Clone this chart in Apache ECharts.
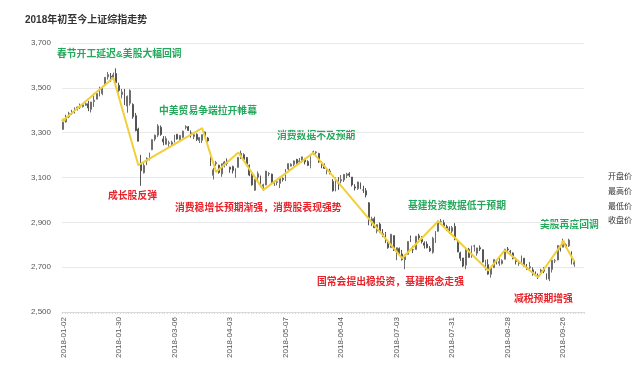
<!DOCTYPE html>
<html><head><meta charset="utf-8">
<script src="https://cdn.jsdelivr.net/npm/echarts@6/dist/echarts.min.js"></script>
<style>html,body{margin:0;padding:0;background:#fff}#c{width:640px;height:366px}</style>
</head><body><div id="c"></div>
<script>
var dates = ['2018-01-02','2018-01-03','2018-01-04','2018-01-05','2018-01-08','2018-01-09','2018-01-10','2018-01-11','2018-01-12','2018-01-15','2018-01-16','2018-01-17','2018-01-18','2018-01-19','2018-01-22','2018-01-23','2018-01-24','2018-01-25','2018-01-26','2018-01-29','2018-01-30','2018-01-31',
'2018-02-01','2018-02-02','2018-02-05','2018-02-06','2018-02-07','2018-02-08','2018-02-09','2018-02-12','2018-02-13','2018-02-14','2018-02-22','2018-02-23','2018-02-26','2018-02-27','2018-02-28',
'2018-03-01','2018-03-02','2018-03-05','2018-03-06','2018-03-07','2018-03-08','2018-03-09','2018-03-12','2018-03-13','2018-03-14','2018-03-15','2018-03-16','2018-03-19','2018-03-20','2018-03-21','2018-03-22','2018-03-23','2018-03-26','2018-03-27','2018-03-28','2018-03-29','2018-03-30',
'2018-04-02','2018-04-03','2018-04-04','2018-04-09','2018-04-10','2018-04-11','2018-04-12','2018-04-13','2018-04-16','2018-04-17','2018-04-18','2018-04-19','2018-04-20','2018-04-23','2018-04-24','2018-04-25','2018-04-26','2018-04-27',
'2018-05-02','2018-05-03','2018-05-04','2018-05-07','2018-05-08','2018-05-09','2018-05-10','2018-05-11','2018-05-14','2018-05-15','2018-05-16','2018-05-17','2018-05-18','2018-05-21','2018-05-22','2018-05-23','2018-05-24','2018-05-25','2018-05-28','2018-05-29','2018-05-30','2018-05-31',
'2018-06-01','2018-06-04','2018-06-05','2018-06-06','2018-06-07','2018-06-08','2018-06-11','2018-06-12','2018-06-13','2018-06-14','2018-06-15','2018-06-19','2018-06-20','2018-06-21','2018-06-22','2018-06-25','2018-06-26','2018-06-27','2018-06-28','2018-06-29',
'2018-07-02','2018-07-03','2018-07-04','2018-07-05','2018-07-06','2018-07-09','2018-07-10','2018-07-11','2018-07-12','2018-07-13','2018-07-16','2018-07-17','2018-07-18','2018-07-19','2018-07-20','2018-07-23','2018-07-24','2018-07-25','2018-07-26','2018-07-27','2018-07-30','2018-07-31',
'2018-08-01','2018-08-02','2018-08-03','2018-08-06','2018-08-07','2018-08-08','2018-08-09','2018-08-10','2018-08-13','2018-08-14','2018-08-15','2018-08-16','2018-08-17','2018-08-20','2018-08-21','2018-08-22','2018-08-23','2018-08-24','2018-08-27','2018-08-28','2018-08-29','2018-08-30','2018-08-31',
'2018-09-03','2018-09-04','2018-09-05','2018-09-06','2018-09-07','2018-09-10','2018-09-11','2018-09-12','2018-09-13','2018-09-14','2018-09-17','2018-09-18','2018-09-19','2018-09-20','2018-09-21','2018-09-25','2018-09-26','2018-09-27','2018-09-28',
'2018-10-08','2018-10-09','2018-10-10','2018-10-11','2018-10-12'];

var openP = [3314,3348,3371,3386,3392,3406,3414,3416,3422,3429,3404,3439,3449,3478,3474,3512,3549,3551,3540,3564,3511,3470,
3478,3419,3431,3426,3376,3316,3161,3121,3174,3180,3224,3271,3289,3324,3272,
3248,3252,3244,3264,3293,3269,3279,3323,3326,3299,3283,3293,3265,3266,3303,3276,3188,3110,3161,3155,3116,3160,
3173,3146,3149,3114,3145,3192,3202,3189,3154,3110,3043,3101,3108,3061,3067,3116,3115,3075,
3078,3074,3096,3086,3138,3151,3159,3181,3171,3172,3185,3171,3150,3214,3211,3207,3163,3154,3130,3129,3083,3040,
3084,3085,3089,3109,3117,3102,3058,3050,3074,3044,3041,2987,2905,2916,2861,2892,2849,2850,2805,2787,
2841,2766,2783,2759,2733,2757,2829,2778,2779,2840,2825,2808,2803,2784,2766,2817,2860,2902,2898,2881,2870,2860,
2882,2813,2764,2741,2709,2780,2745,2794,2762,2787,2778,2700,2711,2668,2698,2729,2717,2716,2735,2781,2771,2763,2730,
2716,2720,2740,2698,2697,2688,2668,2662,2679,2691,2670,2647,2690,2728,2732,2781,2789,2800,2795,
2768,2713];

var closeP = [3348,3369,3386,3392,3409,3414,3422,3425,3429,3410,3437,3445,3475,3488,3501,3547,3559,3548,3558,3523,3488,3481,
3447,3462,3488,3371,3309,3262,3130,3154,3185,3199,3269,3289,3330,3292,3259,
3274,3255,3257,3290,3272,3288,3307,3327,3310,3291,3291,3270,3279,3291,3281,3263,3153,3134,3167,3122,3161,3169,
3163,3137,3131,3138,3190,3208,3180,3159,3111,3067,3091,3117,3072,3068,3129,3118,3075,3082,
3081,3101,3091,3137,3162,3159,3174,3163,3174,3192,3170,3154,3193,3214,3214,3169,3155,3141,3135,3120,3041,3095,
3075,3091,3114,3115,3110,3067,3053,3080,3050,3044,3022,2908,2916,2876,2890,2859,2845,2813,2787,2847,
2776,2787,2759,2734,2747,2815,2828,2778,2838,2831,2814,2798,2787,2773,2829,2860,2906,2904,2882,2874,2869,2876,
2825,2768,2740,2705,2779,2744,2794,2795,2786,2781,2723,2705,2669,2698,2734,2715,2725,2729,2781,2778,2769,2738,2725,
2721,2749,2704,2692,2702,2669,2665,2656,2687,2682,2652,2700,2731,2729,2797,2781,2807,2792,2821,
2717,2721];

var lowP = [3314,3345,3365,3379,3385,3399,3406,3412,3419,3396,3390,3415,3449,3462,3467,3509,3537,3526,3539,3510,3480,3453,
3423,3389,3421,3362,3306,3261,3063,3118,3155,3176,3222,3262,3280,3286,3244,
3247,3237,3245,3256,3269,3264,3275,3315,3307,3278,3271,3263,3254,3254,3279,3257,3151,3091,3152,3117,3103,3145,
3153,3121,3118,3099,3145,3182,3179,3155,3106,3064,3041,3086,3066,3041,3066,3106,3071,3062,
3065,3053,3082,3084,3131,3149,3150,3159,3166,3165,3158,3151,3141,3201,3199,3166,3141,3138,3114,3114,3037,3038,
3045,3074,3080,3097,3102,3060,3042,3045,3048,3031,3011,2887,2883,2874,2851,2852,2834,2807,2782,2787,
2772,2731,2756,2729,2691,2757,2812,2763,2778,2822,2806,2783,2784,2768,2760,2808,2859,2889,2878,2861,2849,2850,
2820,2767,2728,2700,2691,2741,2742,2770,2751,2772,2721,2686,2666,2653,2696,2712,2706,2712,2735,2770,2758,2735,2712,
2706,2719,2702,2688,2692,2662,2660,2647,2665,2673,2644,2638,2676,2718,2731,2770,2789,2787,2790,
2712,2702];

var highP = [3349,3380,3393,3402,3413,3417,3430,3426,3435,3442,3437,3475,3485,3505,3502,3547,3571,3566,3568,3587,3523,3495,
3495,3466,3493,3431,3388,3322,3201,3164,3190,3211,3270,3291,3338,3332,3285,
3284,3264,3264,3290,3293,3289,3309,3333,3330,3310,3294,3297,3280,3292,3305,3281,3192,3143,3174,3157,3162,3174,
3185,3148,3153,3141,3191,3220,3208,3192,3158,3126,3093,3127,3108,3072,3129,3124,3117,3085,
3088,3101,3100,3137,3162,3163,3176,3183,3187,3193,3187,3177,3194,3220,3217,3210,3173,3163,3140,3139,3093,3100,
3102,3111,3115,3121,3124,3102,3070,3081,3078,3063,3053,2990,2925,2925,2890,2899,2870,2857,2819,2848,
2841,2787,2788,2777,2755,2815,2841,2795,2838,2849,2838,2815,2815,2794,2835,2860,2907,2915,2911,2889,2882,2884,
2896,2817,2769,2741,2780,2786,2796,2800,2786,2797,2779,2733,2735,2700,2734,2735,2741,2735,2781,2790,2777,2766,2743,
2725,2752,2741,2714,2723,2699,2681,2672,2693,2700,2672,2700,2737,2736,2798,2788,2827,2806,2827,
2771,2729];

// hand-drawn trend line turning points (category index, index level)
var trendIdx = [0, 18, 27, 50, 55, 63, 72, 90, 122, 135, 153, 159, 171, 180, 184];
var trendVal = [3355, 3545, 3155, 3320, 3125, 3212, 3045, 3210, 2740, 2905, 2685, 2776, 2655, 2812, 2725];

var yTicks = ['2,500','2,700','2,900','3,100','3,300','3,500','3,700'];
var legendNames = ['开盘价','最高价','最低价','收盘价'];

var notes = [
  {t:'春节开工延迟&美股大幅回调', c:'green', x:57, y:49},
  {t:'中美贸易争端拉开帷幕', c:'green', x:159, y:106},
  {t:'成长股反弹', c:'red', x:108, y:191},
  {t:'消费数据不及预期', c:'green', x:277, y:131},
  {t:'消费稳增长预期渐强，消费股表现强势', c:'red', x:175, y:203},
  {t:'基建投资数据低于预期', c:'green', x:408, y:201},
  {t:'美股再度回调', c:'green', x:540, y:220},
  {t:'国常会提出稳投资，基建概念走强', c:'red', x:317, y:277},
  {t:'减税预期增强', c:'red', x:514, y:294}
];

var candle = [];
for (var i = 0; i < dates.length; i++) {
  if (i < openP.length) candle.push([openP[i], closeP[i], lowP[i], highP[i]]);
  else candle.push('-');
}
var trend = dates.map(function(){ return null; });
trendIdx.forEach(function(k, j){ trend[k] = trendVal[j]; });

var FONT = "'Liberation Sans','Noto Sans CJK SC',sans-serif";
var GREEN = '#25a85c', RED = '#e8232b', GOLD = '#f1cf3a';

var series = [{
  type: 'candlestick', name: 'k', data: candle, barMaxWidth: 2,
  itemStyle: {color: '#cfcfcf', color0: '#6a6a6a', borderColor: '#6e6e6e', borderColor0: '#555555', borderWidth: 1}
}, {
  type: 'line', name: 'trend', data: trend, connectNulls: true,
  symbol: 'circle', symbolSize: 4, showSymbol: true,
  lineStyle: {color: GOLD, width: 2}, itemStyle: {color: GOLD}, z: 5
}];
legendNames.forEach(function(n){
  series.push({type: 'line', name: n, data: [], symbol: 'none', lineStyle: {width: 0}});
});

var chart = echarts.init(document.getElementById('c'));
chart.setOption({
  animation: false,
  textStyle: {fontFamily: FONT},
  title: {text: '2018年初至今上证综指走势', left: 25, top: 15, padding: 0,
    textStyle: {fontSize: 10, fontWeight: 'bold', color: '#333', fontFamily: FONT}},
  legend: {data: legendNames, orient: 'vertical', left: 603, top: 173, itemWidth: 0, itemHeight: 8, itemGap: 6.7,
    icon: 'rect', padding: 0, textStyle: {fontSize: 8, color: '#333', padding: [0,0,0,0]}, selectedMode: false},
  grid: {left: 62, top: 43, width: 522, height: 269},
  xAxis: {type: 'category', data: dates, boundaryGap: true,
    axisLine: {lineStyle: {color: '#d9d9d9'}},
    axisTick: {show: true, interval: 0, length: 2, lineStyle: {color: '#d9d9d9'}},
    axisLabel: {rotate: 90, interval: 19, fontSize: 8, color: '#555', margin: 5, fontFamily: FONT},
    splitLine: {show: false}},
  yAxis: {type: 'value', min: 2500, max: 3700, interval: 200,
    axisLine: {show: false}, axisTick: {show: false},
    axisLabel: {fontSize: 8, color: '#555', margin: 11, fontFamily: FONT,
      formatter: function(v){ return yTicks[Math.round((v - 2500) / 200)]; }},
    splitLine: {lineStyle: {color: '#e9e9e9'}}},
  graphic: notes.map(function(n){
    return {type: 'text', left: n.x, top: n.y,
      style: {text: n.t, fill: n.c === 'green' ? GREEN : RED, font: 'bold 9.8px ' + FONT}};
  }),
  series: series
});
</script>
</body></html>
